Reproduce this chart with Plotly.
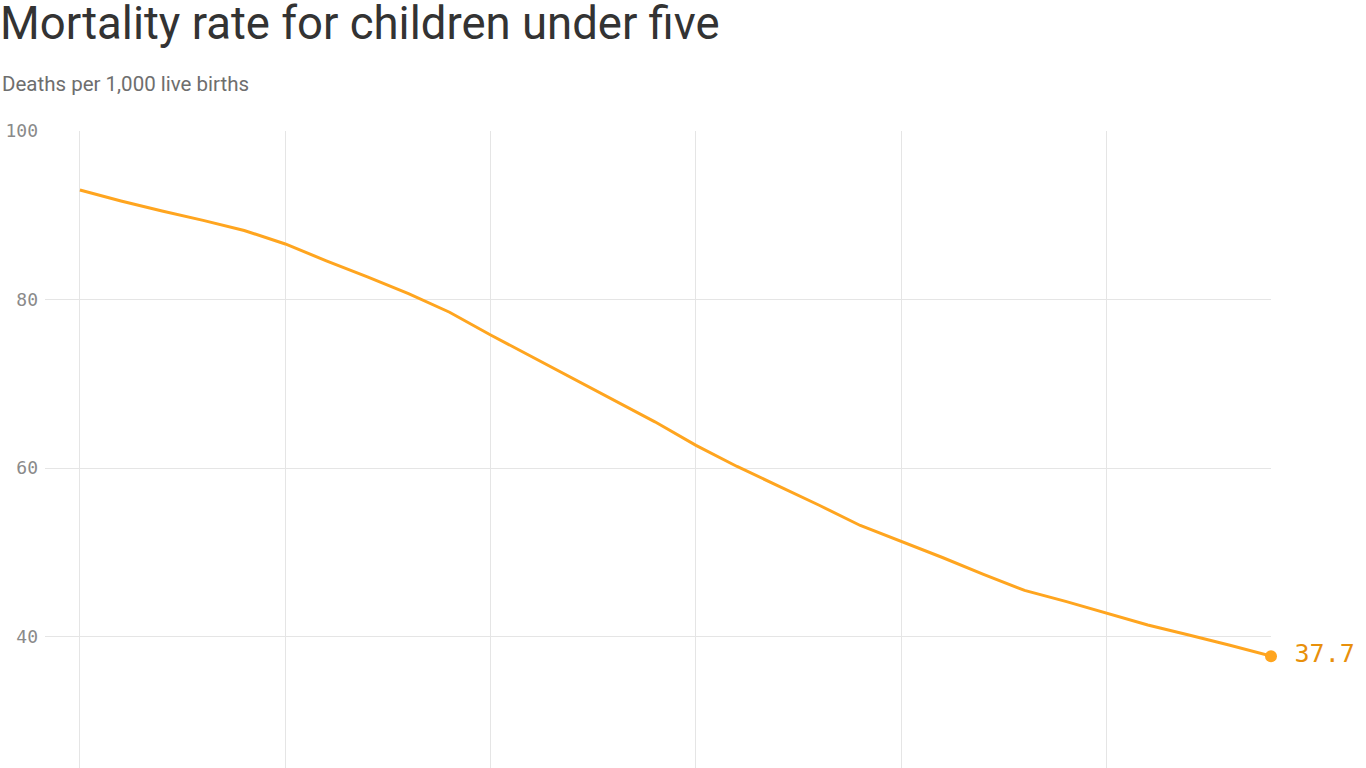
import plotly.graph_objects as go

# Under-five mortality, deaths per 1,000 live births
years = list(range(1990, 2020))
rate = [93.0, 91.7, 90.5, 89.4, 88.2, 86.6, 84.6, 82.7, 80.7, 78.5,
        75.8, 73.2, 70.6, 68.1, 65.5, 62.7, 60.2, 57.9, 55.6, 53.2,
        51.3, 49.4, 47.4, 45.5, 44.2, 42.8, 41.4, 40.2, 39.0, 37.7]
y_ticks = [40, 60, 80, 100]

line_color = "#FFA51F"
label_color = "#E8900B"
mono = "DejaVu Sans Mono"
sans = "Roboto"

fig = go.Figure()

fig.add_trace(go.Scatter(x=years, y=rate, mode="lines",
                         line=dict(color=line_color, width=3),
                         hoverinfo="x+y", showlegend=False))

# Last point marker and value label
fig.add_trace(go.Scatter(x=[years[-1]], y=[rate[-1]], mode="markers+text",
                         marker=dict(color=line_color, size=12),
                         text=[f" {rate[-1]}"], textposition="middle right",
                         textfont=dict(family=mono, size=25, color=label_color),
                         cliponaxis=False, showlegend=False))

fig.update_xaxes(range=[1989.15, 2019], tickvals=[1990, 1995, 2000, 2005, 2010, 2015],
                 showticklabels=False, showgrid=True, gridcolor="#E5E5E5",
                 gridwidth=1, zeroline=False, showline=False)
fig.update_yaxes(range=[24.43, 100], tickvals=y_ticks, showgrid=True,
                 gridcolor="#E5E5E5", gridwidth=1, zeroline=False, showline=False,
                 tickfont=dict(family=mono, size=18, color="#8A8A8A"),
                 ticks="", ticklabelstandoff=6)

fig.update_layout(
    width=1366, height=768,
    margin=dict(l=45, r=95, t=131, b=0),
    paper_bgcolor="white", plot_bgcolor="white",
    title=dict(text="Mortality rate for children under five",
               font=dict(family=sans, size=45.5, color="#333333"),
               x=0, xref="container", xanchor="left",
               y=1 - 7 / 768, yref="container", yanchor="top", pad=dict(t=0, l=0)),
    annotations=[dict(text="Deaths per 1,000 live births", xref="paper", yref="paper",
                      x=-45 / 1226, y=1 + 33 / 637.3, xanchor="left", yanchor="bottom",
                      showarrow=False,
                      font=dict(family=sans, size=20.5, color="#6E6E6E"))],
)

fig.write_html("out.html", config={"displayModeBar": False},
               post_script="document.body.style.margin='0px';")
